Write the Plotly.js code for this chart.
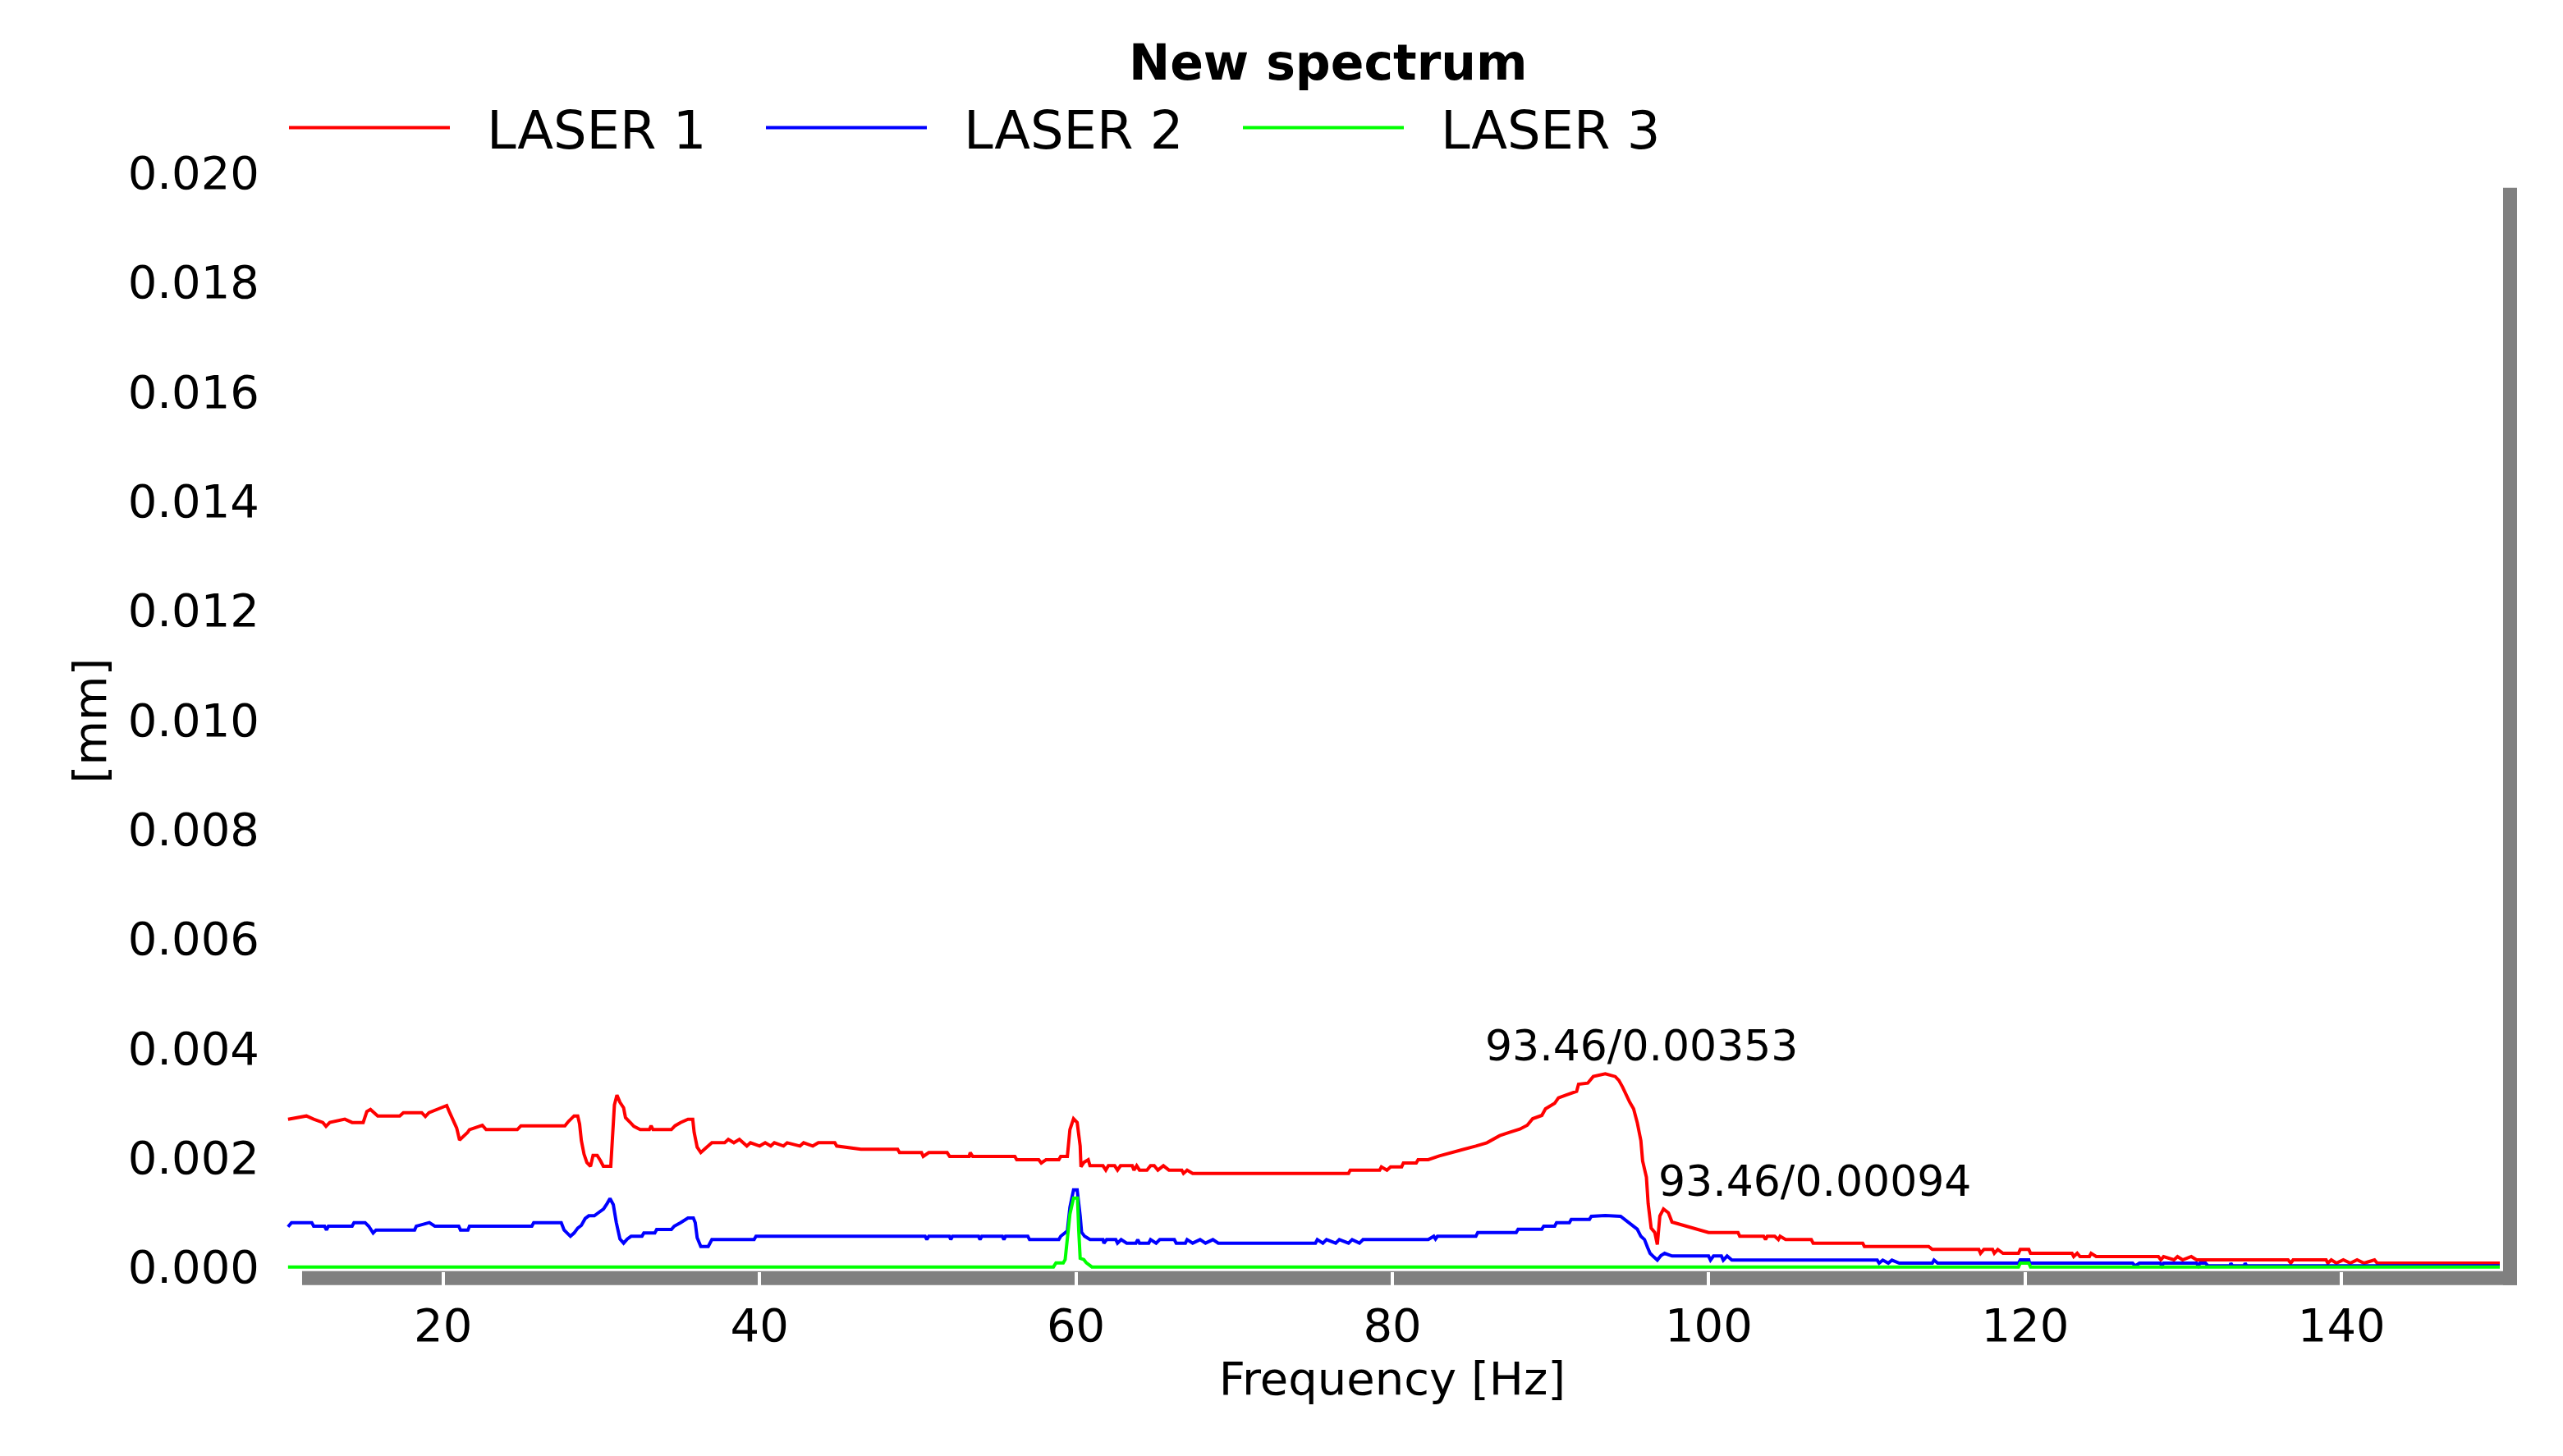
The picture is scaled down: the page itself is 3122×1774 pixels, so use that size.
<!DOCTYPE html>
<html>
<head>
<meta charset="utf-8">
<script src="https://cdn.plot.ly/plotly-3.0.1.min.js"></script>
<style>html,body{margin:0;padding:0;background:#fff;}#chart{width:3122px;height:1774px;}</style>
</head>
<body>
<div id="chart"></div>
<script>
// ---- data ----
var seriesNames = ["LASER 1", "LASER 2", "LASER 3"];
var xTickVals = [20, 40, 60, 80, 100, 120, 140];
var yTickVals = [0, 0.002, 0.004, 0.006, 0.008, 0.010, 0.012, 0.014, 0.016, 0.018, 0.020];

var freq1 = [10.2,11.36,11.82,12.40,12.60,12.84,13.79,14.25,14.95,15.18,15.41,15.87,17.26,17.49,18.65,18.88,19.11,19.69,20.23,20.39,20.69,20.86,21.04,21.32,21.55,21.67,22.48,22.72,24.69,24.92,27.70,27.93,28.28,28.51,28.63,28.74,28.91,29.09,29.32,29.48,29.74,29.95,30.13,30.60,30.71,30.83,30.99,31.18,31.41,31.53,31.83,32.06,32.46,33.04,33.15,33.27,34.43,34.66,35.01,35.48,35.78,35.87,36.06,36.29,36.52,36.76,36.99,37.80,38.03,38.38,38.73,39.20,39.43,40.01,40.36,40.71,40.94,41.52,41.75,42.56,42.79,43.37,43.72,44.76,44.88,46.41,48.73,48.85,50.24,50.35,50.70,51.86,52.02,53.25,53.32,53.48,56.14,56.26,57.65,57.81,58.11,58.92,59.04,59.46,59.50,59.62,59.85,60.08,60.27,60.32,60.50,60.78,60.89,61.71,61.89,62.05,62.45,62.63,62.82,63.56,63.67,63.84,64.02,64.49,64.72,64.95,65.18,65.53,65.88,66.69,66.80,67.03,67.38,77.23,77.34,79.20,79.31,79.66,79.89,80.59,80.70,81.51,81.63,82.27,82.97,83.78,84.47,85.28,85.98,86.39,86.79,87.41,88.06,88.53,88.87,89.45,89.68,90.26,90.50,90.96,91.65,91.77,92.35,92.70,93.46,94.09,94.32,94.55,94.78,95.01,95.25,95.48,95.71,95.82,96.06,96.17,96.36,96.59,96.75,96.91,97.14,97.45,97.68,98.37,99.18,99.99,101.85,101.96,103.47,103.59,103.70,104.17,104.40,104.51,104.86,106.48,106.60,109.73,109.84,113.90,114.13,117.07,117.18,117.39,117.94,118.05,118.27,118.60,119.58,119.69,120.23,120.34,122.96,123.07,123.29,123.47,124.06,124.17,124.49,128.42,128.58,128.75,129.41,129.63,129.95,130.50,130.83,136.62,136.79,136.94,139.02,139.13,139.35,139.67,140.11,140.55,140.98,141.42,142.08,142.25,150.0];
var laser1 = [0.00270,0.00276,0.00270,0.00264,0.00257,0.00264,0.00270,0.00264,0.00264,0.00284,0.00288,0.00276,0.00276,0.00282,0.00282,0.00275,0.00282,0.00288,0.00295,0.00284,0.00264,0.00254,0.00232,0.00239,0.00246,0.00251,0.00259,0.00251,0.00251,0.00258,0.00258,0.00266,0.00276,0.00276,0.00261,0.00231,0.00206,0.00191,0.00184,0.00204,0.00204,0.00194,0.00184,0.00184,0.00231,0.00296,0.00314,0.00301,0.00291,0.00273,0.00264,0.00257,0.00251,0.00251,0.00258,0.00251,0.00251,0.00258,0.00264,0.00270,0.00270,0.00246,0.00219,0.00209,0.00215,0.00221,0.00227,0.00227,0.00233,0.00227,0.00233,0.00221,0.00227,0.00221,0.00227,0.00221,0.00227,0.00221,0.00227,0.00221,0.00227,0.00221,0.00227,0.00227,0.00221,0.00215,0.00215,0.00209,0.00209,0.00202,0.00209,0.00209,0.00202,0.00202,0.00209,0.00202,0.00202,0.00196,0.00196,0.00190,0.00196,0.00196,0.00202,0.00202,0.00216,0.00251,0.00271,0.00264,0.00221,0.00183,0.00191,0.00196,0.00185,0.00185,0.00177,0.00185,0.00185,0.00177,0.00185,0.00185,0.00177,0.00185,0.00177,0.00177,0.00185,0.00185,0.00177,0.00185,0.00177,0.00177,0.00171,0.00177,0.00171,0.00171,0.00177,0.00177,0.00183,0.00177,0.00183,0.00183,0.00190,0.00190,0.00196,0.00196,0.00203,0.00209,0.00215,0.00221,0.00227,0.00233,0.00240,0.00246,0.00252,0.00259,0.00271,0.00277,0.00289,0.00299,0.00309,0.00314,0.00321,0.00334,0.00336,0.00348,0.00353,0.00348,0.00341,0.00329,0.00314,0.00301,0.00289,0.00264,0.00231,0.00194,0.00164,0.00116,0.00071,0.00063,0.00041,0.00093,0.00106,0.00099,0.00082,0.00076,0.00069,0.00063,0.00063,0.00056,0.00056,0.00050,0.00056,0.00056,0.00050,0.00056,0.00050,0.00050,0.000435,0.000435,0.000375,0.000375,0.00032,0.00032,0.00025,0.00032,0.00032,0.00025,0.00032,0.00025,0.00025,0.00032,0.00032,0.00025,0.00025,0.00019,0.00025,0.00019,0.00019,0.00025,0.00019,0.00019,0.00013,0.00019,0.00013,0.00019,0.00013,0.00019,0.00013,0.00013,0.00007,0.00013,0.00013,0.00007,0.00013,0.00007,0.00013,0.00007,0.00013,0.00007,0.00013,0.00007,0.00007];

var freq2 = [10.2,10.42,11.70,11.82,12.51,12.63,12.75,14.25,14.37,15.07,15.30,15.58,15.76,18.20,18.31,19.13,19.48,20.99,21.10,21.57,21.67,25.61,25.73,27.47,27.65,28.05,28.28,28.51,28.74,28.98,29.21,29.56,29.79,30.14,30.37,30.55,30.76,30.95,31.18,31.41,31.64,31.88,32.57,32.69,33.38,33.50,34.43,34.61,35.01,35.48,35.82,35.94,36.06,36.29,36.76,36.99,39.66,39.78,50.47,50.58,50.70,52.00,52.09,52.20,53.85,53.94,54.05,55.35,55.45,55.55,56.96,57.07,58.92,59.04,59.46,59.62,59.85,60.08,60.27,60.36,60.55,60.89,61.71,61.77,61.94,62.52,62.63,62.86,63.21,63.79,63.91,64.02,64.60,64.72,65.07,65.30,66.22,66.34,66.92,67.03,67.38,67.85,68.19,68.66,69.00,75.14,75.26,75.61,75.84,76.42,76.65,77.23,77.46,77.92,78.15,82.27,82.62,82.73,82.85,85.28,85.40,87.83,87.95,89.45,89.57,90.26,90.38,91.19,91.31,92.46,92.58,93.46,94.43,94.67,94.97,95.25,95.48,95.71,95.94,96.13,96.29,96.52,96.75,96.98,97.21,97.68,99.99,100.11,100.30,100.80,100.92,101.16,101.46,110.65,110.77,111.00,111.35,111.58,112.04,114.13,114.24,114.47,119.58,119.69,120.23,120.28,126.79,126.95,127.22,128.53,128.65,128.75,130.83,130.95,131.05,131.40,131.55,132.95,133.00,133.10,133.85,133.90,134.00,150.0];
var laser2 = [0.000735,0.00081,0.00081,0.000745,0.000745,0.000675,0.000745,0.000745,0.00081,0.00081,0.000745,0.00062,0.000675,0.000675,0.000745,0.00081,0.000745,0.000745,0.000675,0.000675,0.000745,0.000745,0.00081,0.00081,0.000675,0.00056,0.00062,0.00071,0.00076,0.000885,0.000935,0.000935,0.000985,0.00106,0.00116,0.00125,0.00114,0.00081,0.00051,0.000435,0.00051,0.00056,0.00056,0.00062,0.00062,0.000685,0.000685,0.000745,0.00081,0.000895,0.000895,0.00081,0.000535,0.000375,0.000375,0.00050,0.00050,0.00056,0.00056,0.00050,0.00056,0.00056,0.00050,0.00056,0.00056,0.00050,0.00056,0.00056,0.00050,0.00056,0.00056,0.00050,0.00050,0.00056,0.00066,0.00109,0.00141,0.00141,0.000935,0.000635,0.00056,0.00050,0.00050,0.000435,0.00050,0.00050,0.000435,0.00050,0.000435,0.000435,0.00050,0.000435,0.000435,0.00050,0.000435,0.00050,0.00050,0.000435,0.000435,0.00050,0.000435,0.00050,0.000435,0.00050,0.000435,0.000435,0.00050,0.000435,0.00050,0.000435,0.00050,0.000435,0.00050,0.000435,0.00050,0.00050,0.00056,0.00051,0.00056,0.00056,0.00063,0.00063,0.00069,0.00069,0.000745,0.000745,0.00081,0.00081,0.00087,0.00087,0.000925,0.00094,0.000925,0.00087,0.00081,0.000745,0.00069,0.00056,0.00050,0.00036,0.00025,0.000185,0.000125,0.00021,0.00025,0.00020,0.00020,0.000125,0.00020,0.00020,0.000125,0.00020,0.000125,0.000125,0.00007,0.000125,0.00007,0.000125,0.00007,0.00007,0.000125,0.00007,0.00007,0.00013,0.00013,0.00007,0.00007,0.00002,0.00007,0.00007,0.00002,0.00007,0.00007,0.00002,0.00007,0.00007,0.00002,0.00002,0.00007,0.00002,0.00002,0.00007,0.00002,0.00002];

var freq3 = [10.2,58.58,58.74,59.20,59.32,59.43,59.62,59.85,60.10,60.18,60.27,60.50,60.66,61.01,119.58,119.69,120.23,120.34,150.0];
var laser3 = [0,0,0.000075,0.000075,0.000135,0.00046,0.00096,0.00126,0.00126,0.00066,0.00016,0.000135,0.000075,0,0,0.00007,0.00007,0,0];

var peakFreq = 93.46;
var peakLabels = ["93.46/0.00353", "93.46/0.00094"];
var peakValues = [0.00353, 0.00094];

// ---- chart ----
var FONT = "DejaVu Sans, Verdana, sans-serif";
var colors = ["#ff0000", "#0000ff", "#00ff00"];
var xs = [freq1, freq2, freq3];
var ys = [laser1, laser2, laser3];
var traces = seriesNames.map(function (n, i) {
  return {type: "scatter", mode: "lines", name: n, x: xs[i], y: ys[i],
          line: {color: colors[i], width: 4}, hoverinfo: "skip"};
});

var layout = {
  width: 3122, height: 1774, autosize: false,
  paper_bgcolor: "#ffffff", plot_bgcolor: "#ffffff",
  margin: {l: 347, r: 77, t: 207, b: 225, pad: 0},
  font: {family: FONT, color: "#000", size: 56},
  title: {text: "<b>New spectrum</b>", font: {family: FONT, size: 60, color: "#000"},
          xref: "paper", x: 0.471, xanchor: "center", yref: "container", y: 0.957, yanchor: "middle"},
  showlegend: true,
  legend: {orientation: "h", x: 0.0, xanchor: "left", y: 1.038, yanchor: "middle",
           font: {family: FONT, size: 64, color: "#000"}, bgcolor: "rgba(0,0,0,0)",
           itemwidth: 236, entrywidth: 330, entrywidthmode: "pixels", traceorder: "normal"},
  xaxis: {range: [10, 150], tickvals: xTickVals, ticktext: xTickVals.map(String),
          showgrid: false, zeroline: false, showline: false,
          ticks: "outside", ticklen: 17, tickwidth: 4, tickcolor: "#ffffff",
          tickfont: {family: FONT, size: 56, color: "#000"},
          title: {text: "Frequency [Hz]", font: {family: FONT, size: 56, color: "#000"}, standoff: 8}},
  yaxis: {range: [-0.00008, 0.02005], tickvals: yTickVals, tickformat: ".3f",
          showgrid: false, zeroline: false, showline: false, ticks: "",
          ticklabelstandoff: 30,
          tickfont: {family: FONT, size: 56, color: "#000"},
          title: {text: "[mm]", font: {family: FONT, size: 56, color: "#000"}, standoff: 8}},
  shapes: [
    {type: "rect", xref: "paper", yref: "paper", x0: 0.00778, x1: 1.00778, y0: -0.01244, y1: 0.0002,
     fillcolor: "#808080", line: {width: 0}, layer: "below"},
    {type: "rect", xref: "paper", yref: "paper", x0: 1.00148, x1: 1.00778, y0: -0.01244, y1: 0.9838,
     fillcolor: "#808080", line: {width: 0}, layer: "below"}
  ],
  annotations: [
    {x: peakFreq, y: peakValues[0], xref: "x", yref: "y", text: peakLabels[0], showarrow: false,
     xanchor: "left", yanchor: "bottom", xshift: -148, yshift: 2, font: {family: FONT, size: 52, color: "#000"}},
    {x: peakFreq, y: peakValues[1], xref: "x", yref: "y", text: peakLabels[1], showarrow: false,
     xanchor: "left", yanchor: "bottom", xshift: 63, yshift: 10, font: {family: FONT, size: 52, color: "#000"}}
  ]
};

Plotly.newPlot("chart", traces, layout, {staticPlot: true, displayModeBar: false}).then(function (gd) {
  gd.querySelectorAll(".legend .js-line").forEach(function (p) { p.setAttribute("d", "M5,0h196"); });
});
</script>
</body>
</html>
